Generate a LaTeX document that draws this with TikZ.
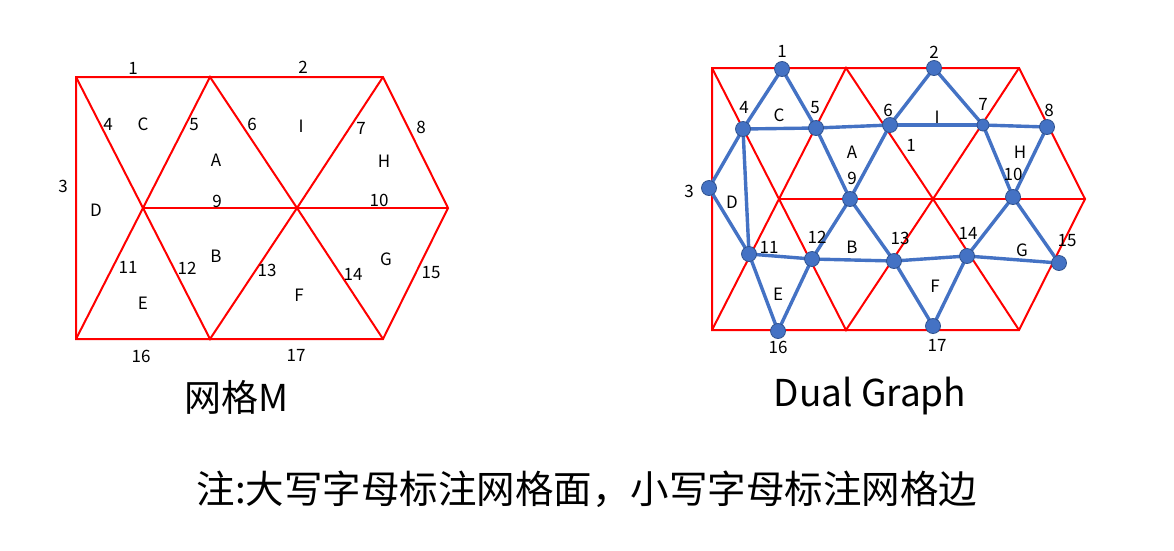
\documentclass[tikz,border=0pt]{standalone}
\usepackage{fontspec}
\setmainfont{Noto Sans CJK SC}
\definecolor{meshred}{RGB}{255,0,0}
\definecolor{dualblue}{RGB}{68,114,196}
\definecolor{dualedge}{RGB}{47,82,143}
\tikzset{
  meshline/.style={draw=meshred, line width=2pt},
  dualline/.style={draw=dualblue, line width=3.4pt},
  dnode/.style={circle, fill=dualblue, draw=dualedge, line width=0.8pt, inner sep=0pt, minimum size=15pt},
  dsmall/.style={dnode, minimum size=12pt},
  lbl/.style={font=\fontsize{17}{17}\selectfont, inner sep=0pt},
  title/.style={font=\fontsize{37}{37}\selectfont, inner sep=0pt},
  notestyle/.style={font=\fontsize{38.5}{38.5}\selectfont, inner sep=0pt},
}
\begin{document}
\begin{tikzpicture}[x=1pt,y=-1pt]
\useasboundingbox (0,0) rectangle (1174,550);
\fill[white] (0,0) rectangle (1174,550);
% ---------- left mesh ----------
\coordinate (TL) at (76,77);
\coordinate (T1) at (210,77);
\coordinate (T2) at (383,77);
\coordinate (M0) at (143,208);
\coordinate (M1) at (297,208);
\coordinate (M2) at (448,208);
\coordinate (BL) at (76,339);
\coordinate (B1) at (210,339);
\coordinate (B2) at (383,339);
\draw[meshline] (TL)--(T1)--(T2)--(M2)--(B2)--(B1)--(BL)--cycle;
\draw[meshline] (TL)--(M0)--(T1)--(M1)--(T2);
\draw[meshline] (BL)--(M0)--(B1)--(M1)--(B2);
\draw[meshline] (M0)--(M1)--(M2);
\node[lbl] (l1) at (133,68) {1};
\node[lbl] (l2) at (303,67) {2};
\node[lbl] (l3) at (63,186) {3};
\node[lbl] (l4) at (108,124) {4};
\node[lbl] (l5) at (194,125) {5};
\node[lbl] (l6) at (252,124) {6};
\node[lbl] (l7) at (361,128) {7};
\node[lbl] (l8) at (421,127) {8};
\node[lbl] (l9) at (217,201) {9};
\node[lbl] (l10) at (379,200) {10};
\node[lbl] (l11) at (128,267) {11};
\node[lbl] (l12) at (187,268) {12};
\node[lbl] (l13) at (267,270) {13};
\node[lbl] (l14) at (353,274) {14};
\node[lbl] (l15) at (431,273) {15};
\node[lbl] (l16) at (141,356) {16};
\node[lbl] (l17) at (296,355) {17};
\node[lbl] (lC) at (143,124) {C};
\node[lbl] (lI) at (301,126) {I};
\node[lbl] (lA) at (216,160) {A};
\node[lbl] (lH) at (384,161) {H};
\node[lbl] (lD) at (96,210) {D};
\node[lbl] (lB) at (216,256) {B};
\node[lbl] (lG) at (386,259) {G};
\node[lbl] (lE) at (143,303) {E};
\node[lbl] (lF) at (299,295) {F};
% ---------- right mesh ----------
\coordinate (rTL) at (712,68);
\coordinate (rT1) at (846,68);
\coordinate (rT2) at (1019,68);
\coordinate (rM0) at (779,199);
\coordinate (rM1) at (933,199);
\coordinate (rM2) at (1085,199);
\coordinate (rBL) at (712,330);
\coordinate (rB1) at (846,330);
\coordinate (rB2) at (1019,330);
\draw[meshline] (rTL)--(rT1)--(rT2)--(rM2)--(rB2)--(rB1)--(rBL)--cycle;
\draw[meshline] (rTL)--(rM0)--(rT1)--(rM1)--(rT2);
\draw[meshline] (rBL)--(rM0)--(rB1)--(rM1)--(rB2);
\draw[meshline] (rM0)--(rM1)--(rM2);
% dual node positions
\coordinate (d1) at (782,69);
\coordinate (d2) at (934,68);
\coordinate (d3) at (709,188);
\coordinate (d4) at (743,129);
\coordinate (d5) at (816,128);
\coordinate (d6) at (890,125);
\coordinate (d7) at (983,125);
\coordinate (d8) at (1047,127);
\coordinate (d9) at (850,199);
\coordinate (d10) at (1013,197);
\coordinate (d11) at (749,254);
\coordinate (d12) at (812,259);
\coordinate (d13) at (894,261);
\coordinate (d14) at (967,256);
\coordinate (d15) at (1059,263);
\coordinate (d16) at (778,331);
\coordinate (d17) at (933,326);
% dual edges
\foreach \a/\b in {1/4,1/5,4/5,5/6,6/7,7/8,2/6,2/7,4/3,3/11,4/11,5/9,6/9,9/12,9/13,7/10,8/10,10/14,10/15,11/12,12/13,13/14,14/15,11/16,12/16,13/17,14/17}
  \draw[dualline] (d\a)--(d\b);
% dual nodes
\foreach \n in {1,2,3,4,5,6,8,9,10,11,12,13,14,15,16,17}
  \node[dnode] (v\n) at (d\n) {};
\node[dsmall] (v7) at (d7) {};
% dual labels
\node[lbl] (n1) at (782,51) {1};
\node[lbl] (n2) at (934,52) {2};
\node[lbl] (n3) at (689,191) {3};
\node[lbl] (n4) at (744,107) {4};
\node[lbl] (n5) at (815,108) {5};
\node[lbl] (n6) at (888,110) {6};
\node[lbl] (n7) at (983,104) {7};
\node[lbl] (n8) at (1049,110) {8};
\node[lbl] (n9) at (852,178) {9};
\node[lbl] (n10) at (1013,174) {10};
\node[lbl] (n11) at (769,247) {11};
\node[lbl] (n12) at (817,237) {12};
\node[lbl] (n13) at (900,238) {13};
\node[lbl] (n14) at (968,233) {14};
\node[lbl] (n15) at (1067,241) {15};
\node[lbl] (n16) at (778,347) {16};
\node[lbl] (n17) at (937,345) {17};
\node[lbl] (fC) at (779,115) {C};
\node[lbl] (fA) at (852,152) {A};
\node[lbl] (fI) at (937,117) {I};
\node[lbl] (fone) at (911,145) {1};
\node[lbl] (fH) at (1020,152) {H};
\node[lbl] (fD) at (732,202) {D};
\node[lbl] (fB) at (852,247) {B};
\node[lbl] (fG) at (1022,250) {G};
\node[lbl] (fE) at (778,294) {E};
\node[lbl] (fF) at (935,286) {F};
% titles
\node[title] (tM) at (237,397) {网格M};
\node[title] (tD) at (870,396) {Dual Graph};
\node[notestyle] (note) at (587,489) {注:大写字母标注网格面，小写字母标注网格边};
\end{tikzpicture}
\end{document}
